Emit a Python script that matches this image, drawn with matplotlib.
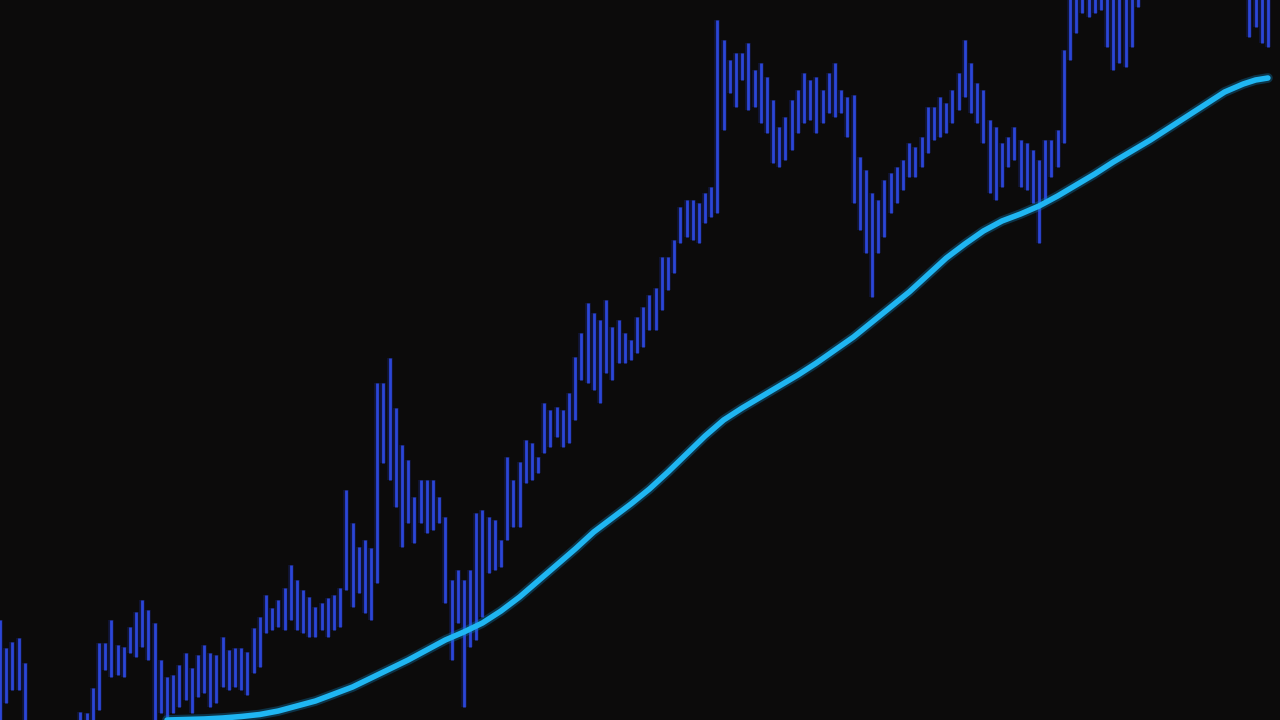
import numpy as np
import matplotlib
matplotlib.use('Agg')
import matplotlib.pyplot as plt

# bar highs / lows (price units, 0..720 visible window)
highs = [
    100, 72, 78, 82, 57,
    -5, -15, -25, -30, -28, -20, -15, -10,
    8, 7, 32, 77, 77, 100, 75, 73, 93, 108, 120, 110,
    97, 60, 43, 45, 55, 67, 52, 65, 75, 67, 65, 83, 70, 72, 72, 68,
    92, 103, 125, 112, 120, 132, 155, 140, 130, 123,
    113, 117, 122, 125, 132, 230, 197, 173, 180, 172, 337, 337, 362, 312,
    275, 260, 223, 240, 240, 240, 223, 203, 140, 150, 140, 150, 207,
    210, 203, 200, 180, 263, 240, 258, 280, 277, 263, 317, 310, 313, 310,
    327, 363, 387, 417, 407, 400, 420, 393, 400, 387, 380, 403, 413,
    425, 432, 463, 463, 480, 513, 520, 520, 517, 527, 533, 700, 680, 660,
    667, 667, 677, 650, 657, 643, 620, 593, 603, 620, 630, 647, 640,
    643, 630, 647, 657, 630, 623, 625, 563, 550, 527, 520, 540, 547, 553,
    560, 577, 573, 583, 613, 613, 623, 617, 630, 647, 680,
    657, 637, 630, 600, 593, 577, 583, 593, 580, 577, 570, 560, 580, 580,
    590, 670, 740, 745, 750, 750, 755, 755, 750, 745, 745,
    760, 760, 765,
    780, 790, 795, 800, 805, 810, 815, 810, 805, 800, 795, 790, 788, 785,
    782, 780, 778,
    760, 765, 760, 760,
]
lows = [
    -20, 17, 30, 30, -20,
    -60, -70, -80, -85, -80, -70, -60, -50,
    -40, -35, -15, 10, 50, 43, 45, 43, 67, 63, 73, 60,
    -5, 7, 3, 7, 13, 20, 7, 23, 27, 13, 17, 33, 30, 33, 30, 25,
    47, 53, 87, 90, 93, 90, 100, 90, 87, 83,
    83, 90, 83, 90, 93, 130, 113, 127, 107, 100, 137, 257, 240, 213,
    173, 197, 177, 197, 187, 190, 197, 117, 60, 97, 13, 73, 80,
    103, 147, 150, 153, 180, 193, 193, 237, 240, 247, 267, 273, 283, 273,
    277, 300, 340, 337, 330, 317, 347, 340, 357, 357, 360, 367, 373,
    390, 390, 410, 430, 447, 477, 483, 480, 477, 497, 503, 507, 590, 627,
    613, 640, 610, 613, 597, 587, 557, 553, 560, 570, 587, 597, 600,
    587, 597, 607, 603, 607, 583, 517, 490, 467, 423, 467, 483, 507, 517,
    530, 543, 543, 553, 567, 580, 583, 587, 597, 610, 623,
    607, 597, 577, 527, 520, 533, 553, 560, 533, 530, 517, 477, 520, 543,
    553, 577, 660, 687, 707, 703, 707, 710, 673, 650, 657,
    653, 673, 713,
    730, 740, 745, 750, 755, 760, 765, 760, 755, 750, 745, 740, 738, 735,
    732, 730, 728,
    683, 693, 677, 673,
]

# moving average (bar index, value)
ma_idx = [27, 30, 33, 36, 39, 42, 45, 48, 51, 54, 57, 60, 63, 66, 69, 72,
          75, 78, 81, 84, 87, 90, 93, 96, 99, 102, 105, 108, 111, 114, 117,
          120, 123, 126, 129, 132, 135, 138, 141, 144, 147, 150, 153, 156,
          159, 162, 165, 168, 171, 174, 177, 180, 183, 186, 189, 192, 195,
          198, 201, 203, 205]
ma_val = [0, 0.5, 1, 2, 3.5, 5.5, 9, 14, 19, 26, 33, 42, 51, 60, 70, 80,
          88, 97, 109, 123, 139, 155, 171, 188, 202, 216, 231, 248, 266, 284,
          300, 312, 323, 334, 345, 357, 370, 383, 398, 413, 428, 445, 462,
          476, 489, 499, 506, 514, 524, 535, 546, 558, 569, 580, 592, 604,
          616, 628, 636, 640, 642]

bg = '#0c0b0b'
fig = plt.figure(figsize=(12.8, 7.2), dpi=100, facecolor=bg)
ax = fig.add_axes([0, 0, 1, 1])
ax.set_facecolor(bg)

x = np.arange(len(highs))
ax.vlines(x, lows, highs, color='#2338c8', linewidth=4, alpha=0.25)
ax.vlines(x, lows, highs, color='#2b46d8', linewidth=2)

ax.plot(ma_idx, ma_val, color='#0f7fb8', linewidth=7, alpha=0.35,
        solid_capstyle='round', solid_joinstyle='round')
ax.plot(ma_idx, ma_val, color='#1fb6f2', linewidth=4,
        solid_capstyle='round', solid_joinstyle='round')

ax.set_xlim(0, 1280 / 6.185)
ax.set_ylim(0, 720)
ax.axis('off')

fig.savefig('out.png', dpi=100, facecolor=bg)
